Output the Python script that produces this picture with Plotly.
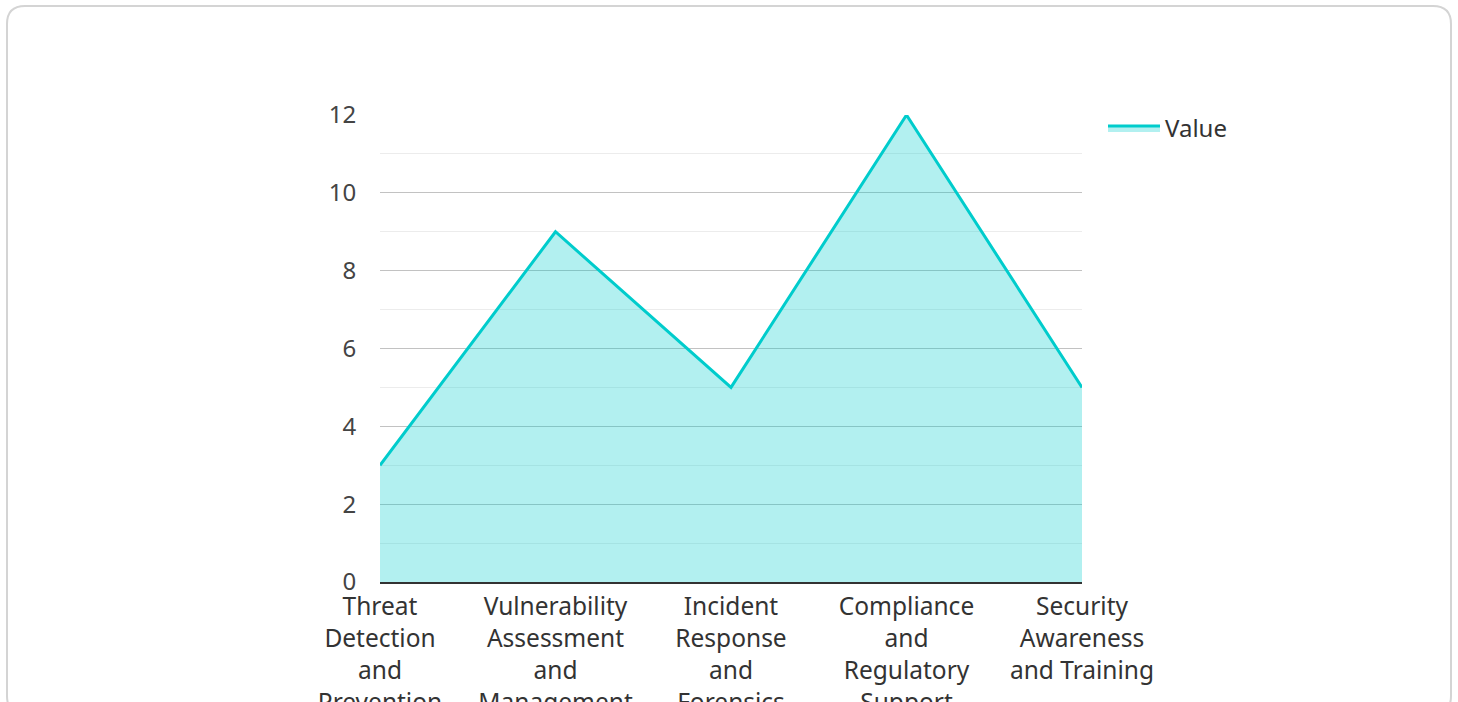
import plotly.graph_objects as go

categories = [
    "Threat<br>Detection<br>and<br>Prevention",
    "Vulnerability<br>Assessment<br>and<br>Management",
    "Incident<br>Response<br>and<br>Forensics",
    "Compliance<br>and<br>Regulatory<br>Support",
    "Security<br>Awareness<br>and Training",
]
values = [3, 9, 5, 12, 5]
series_name = "Value"

W, H = 1458, 702
L, R, T, B = 380, 1082, 115, 582


def px(x):
    return (x - L) / (R - L)


def py(y):
    return (B - y) / (B - T)


# rounded card border
x0, x1, y0, y1, r = 7, 1451, 6, 714, 18
path = (
    f"M {px(x0 + r)},{py(y0)} L {px(x1 - r)},{py(y0)} "
    f"Q {px(x1)},{py(y0)} {px(x1)},{py(y0 + r)} "
    f"L {px(x1)},{py(y1 - r)} Q {px(x1)},{py(y1)} {px(x1 - r)},{py(y1)} "
    f"L {px(x0 + r)},{py(y1)} Q {px(x0)},{py(y1)} {px(x0)},{py(y1 - r)} "
    f"L {px(x0)},{py(y0 + r)} Q {px(x0)},{py(y0)} {px(x0 + r)},{py(y0)} Z"
)

fig = go.Figure()
fig.add_trace(go.Scatter(
    x=categories, y=values, name=series_name, mode="lines",
    line=dict(color="#00cccc", width=3),
    fill="tozeroy", fillcolor="rgba(0,204,204,0.3)",
))

fig.update_layout(
    width=W, height=H,
    margin=dict(l=L, r=W - R, t=T, b=H - B, autoexpand=False),
    paper_bgcolor="white", plot_bgcolor="white",
    font=dict(family="Noto Sans", size=24, color="#444"),
    showlegend=True,
    legend=dict(x=px(1103), y=py(106), xanchor="left", yanchor="top",
                itemwidth=52,
                font=dict(size=24, color="#333"), bgcolor="rgba(0,0,0,0)"),
    shapes=[dict(type="path", path=path, xref="paper", yref="paper",
                 line=dict(color="#d4d4d4", width=2), layer="below")],
)
fig.update_xaxes(
    type="category", range=[0, 4], showgrid=False, zeroline=False,
    showline=True, linecolor="#333", linewidth=2,
    ticks="outside", ticklen=2, tickcolor="rgba(0,0,0,0)",
    tickfont=dict(size=24.5, color="#333"),
)
fig.update_yaxes(
    range=[0, 12], dtick=2, showgrid=True, gridcolor="#c2c2c2", gridwidth=1,
    zeroline=False, showline=False,
    ticks="outside", ticklen=18, tickcolor="rgba(0,0,0,0)",
    tickfont=dict(size=24, color="#444"),
    minor=dict(dtick=1, showgrid=True, gridcolor="#ececec", gridwidth=1),
)

fig.write_html(
    "out.html",
    config={"displayModeBar": False},
    post_script="document.body.style.margin='0';document.body.style.overflow='hidden';",
)
